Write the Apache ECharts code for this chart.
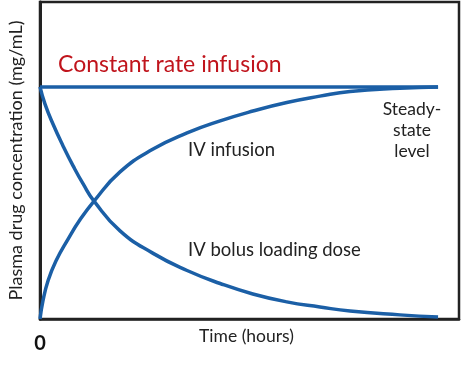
<!DOCTYPE html>
<html>
<head>
<meta charset="utf-8">
<script src="https://cdn.jsdelivr.net/npm/echarts@6/dist/echarts.min.js"></script>
<style>html,body{margin:0;padding:0;background:#fff}#c{width:474px;height:371px}</style>
</head>
<body>
<div id="c"></div>
<script>
// Data (time in arbitrary units 0..10, concentration 0..100)
const infusionTimes = [0, 0.07, 0.19, 0.38, 0.67, 0.95, 1.29, 1.91, 2.70, 3.51, 4.30, 5.08, 5.89, 6.68, 7.40, 8.59, 9.50];
const infusionValues = [0, 5.7, 12.0, 18.3, 25.2, 31.2, 37.2, 46.4, 53.6, 58.7, 62.5, 65.6, 68.3, 70.3, 71.8, 72.8, 73.2];
const bolusTimes = [0, 0.12, 0.31, 0.55, 0.79, 1.03, 1.29, 1.91, 2.70, 3.51, 4.30, 5.08, 5.89, 6.68, 7.40, 8.59, 9.50];
const bolusValues = [73.2, 67.8, 61.5, 54.6, 48.3, 42.6, 37.2, 27.8, 20.7, 15.3, 11.2, 7.9, 5.4, 3.8, 2.5, 1.3, 0.6];
const steadyTimes = [0, 9.5];
const steadyValues = [73.2, 73.2];
const xTickLabels = ['0'];

const pair = (xs, ys) => xs.map((x, i) => [x, ys[i]]);
const blue = '#1b5fa6';
const font = 'Lato, "Open Sans", sans-serif';

const chart = echarts.init(document.getElementById('c'));
chart.setOption({
  animation: false,
  grid: { left: 40, right: 15, top: 2, bottom: 52, outerBoundsMode: 'none', containLabel: false,
          show: true, borderColor: '#222', borderWidth: 2.5 },
  xAxis: {
    type: 'value', min: 0, max: 10, interval: 10,
    name: 'Time (hours)', nameLocation: 'middle', nameGap: 8, nameMoveOverlap: false,
    nameTextStyle: { fontFamily: font, fontSize: 17.5, color: '#222', padding: [0, 6, 0, 0] },
    axisLine: { show: true, lineStyle: { color: '#222', width: 2.5 } },
    axisTick: { show: false },
    splitLine: { show: false },
    axisLabel: {
      margin: 15, fontFamily: font, fontSize: 20, fontWeight: 'bold', color: '#111',
      formatter: (v) => (v === 0 ? xTickLabels[0] : '')
    }
  },
  yAxis: {
    type: 'value', min: 0, max: 100,
    name: 'Plasma drug concentration (mg/mL)', nameLocation: 'middle', nameGap: 15, nameMoveOverlap: false,
    nameTextStyle: { fontFamily: font, fontSize: 18, color: '#222' },
    axisLine: { show: true, lineStyle: { color: '#222', width: 3 } },
    axisTick: { show: false },
    axisLabel: { show: false },
    splitLine: { show: false }
  },
  series: [
    { name: 'Constant rate infusion', type: 'line', data: pair(steadyTimes, steadyValues), symbol: 'none',
      lineStyle: { color: blue, width: 3.5 } },
    { name: 'IV infusion', type: 'line', data: pair(infusionTimes, infusionValues), symbol: 'none',
      smooth: true, lineStyle: { color: blue, width: 3.5 } },
    { name: 'IV bolus loading dose', type: 'line', data: pair(bolusTimes, bolusValues), symbol: 'none',
      smooth: true, lineStyle: { color: blue, width: 3.5 } }
  ],
  graphic: [
    { type: 'text', left: 58, top: 53, style: { text: 'Constant rate infusion', fontFamily: font, fontSize: 23, fill: '#c0141c' } },
    { type: 'text', left: 188, top: 141, style: { text: 'IV infusion', fontFamily: font, fontSize: 18.5, fill: '#222' } },
    { type: 'text', left: 188, top: 241, style: { text: 'IV bolus loading dose', fontFamily: font, fontSize: 18.5, fill: '#222' } },
    { type: 'text', x: 412, y: 99, style: { text: 'Steady-\nstate\nlevel', align: 'center', lineHeight: 21, fontFamily: font, fontSize: 17.5, fill: '#222' } }
  ]
});
</script>
</body>
</html>
